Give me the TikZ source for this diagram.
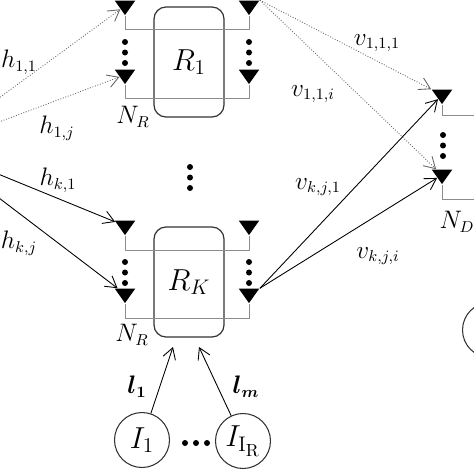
\documentclass[tikz,border=0pt]{standalone}
\usepackage{amsmath}
\usetikzlibrary{arrows.meta, positioning, shapes.geometric}

\begin{document}
\begin{tikzpicture}[
    x=0.2mm, y=-0.2mm,
    relay/.style={rectangle, draw=black!80, line width=0.7pt, rounded corners=2.4mm,
                  minimum width=14mm, minimum height=22mm, font=\LARGE},
    antenna/.style={isosceles triangle, isosceles triangle stretches, shape border rotate=270,
                    fill=black, inner sep=0pt, minimum width=4.1mm, minimum height=2.9mm},
    source/.style={circle, draw=black!80, line width=0.6pt, minimum size=11mm, inner sep=0pt, font=\LARGE},
    wire/.style={draw=black!45, line width=0.5pt},
    arrow/.style={-{Straight Barb[length=2.2mm, width=2.6mm]}, line width=0.5pt},
    dotarrow/.style={arrow, densely dotted, draw=black!60},
    lbl/.style={font=\fontsize{13.5}{16}\selectfont}
]
    \useasboundingbox (0,0) rectangle (474,474);
    \clip (0,0) rectangle (474,474);

    \node[relay] (r1) at (189,62) {$R_1$};
    \node[relay] (rk) at (189,282) {$R_K$};

    \node[antenna, anchor=apex] (r1a) at (125,16) {};
    \node[antenna, anchor=apex] (r1b) at (125,85) {};
    \node[antenna, anchor=apex] (r1c) at (249,16) {};
    \node[antenna, anchor=apex] (r1d) at (249,85) {};
    \node[antenna, anchor=apex] (rka) at (125,236) {};
    \node[antenna, anchor=apex] (rkb) at (125,304) {};
    \node[antenna, anchor=apex] (rkc) at (249,236) {};
    \node[antenna, anchor=apex] (rkd) at (249,304) {};
    \node[antenna, anchor=apex] (d1) at (442,105) {};
    \node[antenna, anchor=apex] (d2) at (442,185) {};

    \coordinate (src) at (-68,147);
    \coordinate (dout1) at (480,115);
    \coordinate (dout2) at (480,199);
    \coordinate (rkin1) at (173,347);
    \coordinate (rkinm) at (199,347);

    \draw[wire] (r1a.apex) -- ++(0,13) -| (r1c.apex);
    \draw[wire] (r1b.apex) -- ++(0,13) -| (r1d.apex);
    \draw[wire] (rka.apex) -- ++(0,14) -| (rkc.apex);
    \draw[wire] (rkb.apex) -- ++(0,14) -| (rkd.apex);
    \draw[wire] (d1.apex) -- ++(0,10) -- (dout1);
    \draw[wire] (d2.apex) -- ++(0,14) -- (dout2);

    \foreach \x/\y in {125/42, 249/42, 125/262, 249/262, 190/167, 443/135}
        \foreach \d in {0,10.5,21}
            \fill (\x,{\y+\d}) circle (0.6mm);
    \foreach \d in {0,11,22}
        \fill ({185+\d},443) circle (0.6mm);

    \node[source] (i1) at (142,440) {$I_1$};
    \node[source] (ir) at (243,441) {$I_{\mathrm{I}_{\mathrm{R}}}$};
    \node[source] (ie) at (490,330) {};

    \node[lbl] (nr1) at (133,117) {$N_R$};
    \node[lbl] (nrk) at (132,335) {$N_R$};
    \node[lbl] (nd) at (457,222) {$N_D$};
    \node[lbl] (h11) at (19,62) {$h_{1,1}$};
    \node[lbl] (h1j) at (57,128) {$h_{1,j}$};
    \node[lbl] (hk1) at (58,180) {$h_{k,1}$};
    \node[lbl] (hkj) at (19,243) {$h_{k,j}$};
    \node[lbl] (v111) at (377,43) {$v_{1,1,1}$};
    \node[lbl] (v11i) at (313,94) {$v_{1,1,i}$};
    \node[lbl] (vkj1) at (318,187) {$v_{k,j,1}$};
    \node[lbl] (vkji) at (378,256) {$v_{k,j,i}$};
    \node[lbl] (l1) at (137,387) {$\boldsymbol{l_1}$};
    \node[lbl] (lm) at (246,387) {$\boldsymbol{l_m}$};

    \draw[dotarrow] (src) -- (r1a); \draw[dotarrow] (src) -- (r1b);
    \draw[arrow] (src) -- (rka); \draw[arrow] (src) -- (rkb);
    \draw[dotarrow] (r1c.left corner) -- (d1); \draw[dotarrow] (r1c.left corner) -- (d2);
    \draw[arrow] (rkd.left corner) -- (d1); \draw[arrow] (rkd.left corner) -- (d2);
    \draw[arrow] (i1) -- (rkin1); \draw[arrow] (ir) -- (rkinm);
\end{tikzpicture}
\end{document}
